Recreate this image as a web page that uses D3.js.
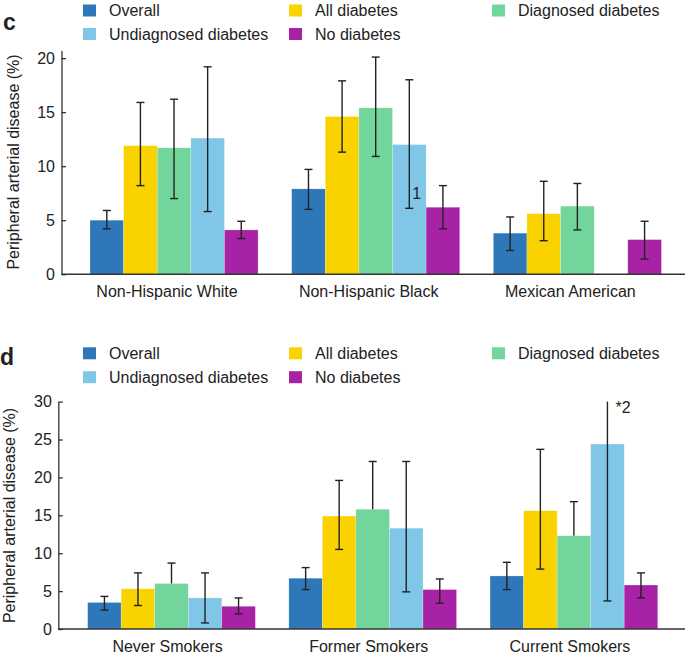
<!DOCTYPE html>
<html>
<head>
<meta charset="utf-8">
<script src="https://cdn.jsdelivr.net/npm/d3@7"></script>
<style>
  body { margin: 0; background: #fff; }
  text { font-family: "Liberation Sans", Arial, Helvetica, sans-serif; fill: #222; }
</style>
</head>
<body>
<script>
// series shared by both panels
var series = ["Overall", "All diabetes", "Diagnosed diabetes", "Undiagnosed diabetes", "No diabetes"];
var colors = ["#2e78ba", "#fad200", "#72d59b", "#80c7e7", "#a822a6"];

// panel c - race / ethnicity
var raceGroups = ["Non-Hispanic White", "Non-Hispanic Black", "Mexican American"];
var raceMean = [[5.0, 11.9, 11.7, 12.6, 4.1], [7.9, 14.6, 15.4, 12.0, 6.2], [3.8, 5.6, 6.3, null, 3.2]];
var raceLow  = [[4.2, 8.2, 7.0, 5.8, 3.3], [6.0, 11.3, 10.9, 6.1, 4.2], [2.2, 3.1, 4.1, null, 1.4]];
var raceHigh = [[5.9, 15.9, 16.2, 19.2, 4.9], [9.7, 17.9, 20.1, 18.0, 8.2], [5.3, 8.6, 8.4, null, 4.9]];
var raceTicks = [0, 5, 10, 15, 20];
var raceNotes = [{ group: 1, serie: 3, text: "1", at: "low" }];

// panel d - smoking status
var smokeGroups = ["Never Smokers", "Former Smokers", "Current Smokers"];
var smokeMean = [[3.5, 5.3, 6.0, 4.1, 3.0], [6.7, 14.9, 15.8, 13.3, 5.2], [7.0, 15.6, 12.3, 24.4, 5.8]];
var smokeLow  = [[2.5, 3.1, 3.4, 0.8, 2.0], [5.2, 10.5, 9.5, 4.9, 3.4], [5.2, 7.9, 8.0, 3.7, 4.1]];
var smokeHigh = [[4.3, 7.4, 8.7, 7.4, 4.1], [8.1, 19.6, 22.1, 22.1, 6.6], [8.8, 23.7, 16.8, 30.0, 7.4]];
var smokeTicks = [0, 5, 10, 15, 20, 25, 30];
var smokeNotes = [{ group: 2, serie: 3, text: "*2", at: "high" }];

var W = 685, H = 661;
var svg = d3.select("body").append("svg")
    .attr("width", W)
    .attr("height", H);

function drawPanel(p) {
    var g = svg.append("g");

    // panel letter
    g.append("text")
        .attr("x", p.letterX).attr("y", p.letterY)
        .style("font-size", "23px").style("font-weight", "bold")
        .text(p.letter);

    // legend, 3 columns x 2 rows
    var legCols = [83, 289, 492];
    series.forEach(function(s, i) {
        var lx = legCols[i % 3], ly = p.legendRows[Math.floor(i / 3)];
        g.append("rect")
            .attr("x", lx).attr("y", ly - 6)
            .attr("width", 13).attr("height", 12)
            .attr("fill", colors[i]);
        g.append("text")
            .attr("x", lx + 26).attr("y", ly)
            .attr("dy", "0.35em")
            .style("font-size", "16px")
            .text(s);
    });

    var x0 = d3.scaleBand()
        .domain(p.groups)
        .range(p.xRange)
        .paddingInner(1 / 6)
        .paddingOuter(1 / 12);
    var x1 = d3.scaleBand()
        .domain(d3.range(series.length))
        .range([0, x0.bandwidth()]);
    var y = d3.scaleLinear()
        .domain([0, p.yMax])
        .range(p.yRange);

    function errBars(filter) {
        p.groups.forEach(function(grp, gi) {
            series.forEach(function(s, si) {
                if (p.mean[gi][si] == null || !filter(si)) return;
                var cx = x0(grp) + x1(si) + x1.bandwidth() / 2;
                var eg = g.append("g")
                    .attr("stroke", "#222")
                    .attr("stroke-width", 1.4);
                eg.append("line")
                    .attr("x1", cx).attr("x2", cx)
                    .attr("y1", y(p.low[gi][si])).attr("y2", y(p.high[gi][si]));
                eg.append("line")
                    .attr("x1", cx - 4).attr("x2", cx + 4)
                    .attr("y1", y(p.low[gi][si])).attr("y2", y(p.low[gi][si]));
                // no cap where the bar is cut at the axis top
                if (p.high[gi][si] < p.yMax) {
                    eg.append("line")
                        .attr("x1", cx - 4).attr("x2", cx + 4)
                        .attr("y1", y(p.high[gi][si])).attr("y2", y(p.high[gi][si]));
                }
            });
        });
    }

    // some error bars sit behind their bars
    errBars(function(si) { return p.behind.indexOf(si) >= 0; });

    var groupSel = g.selectAll(".grp")
        .data(p.groups)
        .enter().append("g")
        .attr("class", "grp")
        .attr("transform", function(d) { return "translate(" + x0(d) + ",0)"; });

    groupSel.selectAll("rect")
        .data(function(d, gi) {
            return p.mean[gi].map(function(v, si) { return { v: v, si: si }; });
        })
        .enter().filter(function(d) { return d.v != null; })
        .append("rect")
        .attr("x", function(d) { return x1(d.si); })
        .attr("width", x1.bandwidth())
        .attr("y", function(d) { return y(d.v); })
        .attr("height", function(d) { return y(0) - y(d.v); })
        .attr("fill", function(d) { return colors[d.si]; })
        .attr("stroke", "#fff")
        .attr("stroke-opacity", 0.35)
        .attr("stroke-width", 0.6);

    errBars(function(si) { return p.behind.indexOf(si) < 0; });

    // footnote marks
    p.notes.forEach(function(n) {
        var cx = x0(p.groups[n.group]) + x1(n.serie) + x1.bandwidth() / 2;
        var t = g.append("text").style("font-size", "16px").text(n.text);
        if (n.at === "low") {
            t.attr("x", cx + 3).attr("y", y(p.low[n.group][n.serie]) - 9);
        } else {
            t.attr("x", cx + 8).attr("y", y(p.high[n.group][n.serie]) + 11);
        }
    });

    // y axis, ticks pointing inward
    var yAxis = g.append("g")
        .attr("transform", "translate(" + p.axisX + ",0)")
        .call(d3.axisLeft(y)
            .tickValues(p.ticks)
            .tickSizeInner(-4.5)
            .tickSizeOuter(0)
            .tickPadding(6.5));
    yAxis.select(".domain").attr("stroke", "#333").attr("stroke-width", 1.3);
    yAxis.selectAll(".tick line").attr("stroke", "#333").attr("stroke-width", 1.3);
    yAxis.selectAll(".tick text")
        .style("font-size", "16px")
        .style("font-family", "'Liberation Sans', Arial, sans-serif")
        .attr("fill", "#222");

    // baseline
    g.append("line")
        .attr("x1", p.axisX).attr("x2", W)
        .attr("y1", y(0)).attr("y2", y(0))
        .attr("stroke", "#333").attr("stroke-width", 1.5);

    // category labels
    g.selectAll(".cat")
        .data(p.groups)
        .enter().append("text")
        .attr("class", "cat")
        .attr("x", function(d) { return x0(d) + x0.bandwidth() / 2 + p.labelDx; })
        .attr("y", y(0) + 23)
        .attr("text-anchor", "middle")
        .style("font-size", "16px")
        .text(function(d) { return d; });

    // y title
    g.append("text")
        .attr("transform", "translate(" + p.titleX + "," + p.titleY + ") rotate(-90)")
        .attr("text-anchor", "middle")
        .attr("dy", "0.35em")
        .style("font-size", "16px")
        .text("Peripheral arterial disease (%)");
}

drawPanel({
    letter: "c", letterX: 3, letterY: 30,
    legendRows: [10.5, 34],
    groups: raceGroups, mean: raceMean, low: raceLow, high: raceHigh,
    ticks: raceTicks, notes: raceNotes, behind: [],
    xRange: [73.2, 678.2], yMax: 20.7, yRange: [274.2, 50.6],
    axisX: 61.5, titleX: 13.5, titleY: 162, labelDx: -7
});

drawPanel({
    letter: "d", letterX: 0, letterY: 365,
    legendRows: [353.3, 377.2],
    groups: smokeGroups, mean: smokeMean, low: smokeLow, high: smokeHigh,
    ticks: smokeTicks, notes: smokeNotes, behind: [2],
    xRange: [70.9, 674.5], yMax: 30, yRange: [629, 401.6],
    axisX: 58.3, titleX: 9, titleY: 515.5, labelDx: -4
});
</script>
</body>
</html>
